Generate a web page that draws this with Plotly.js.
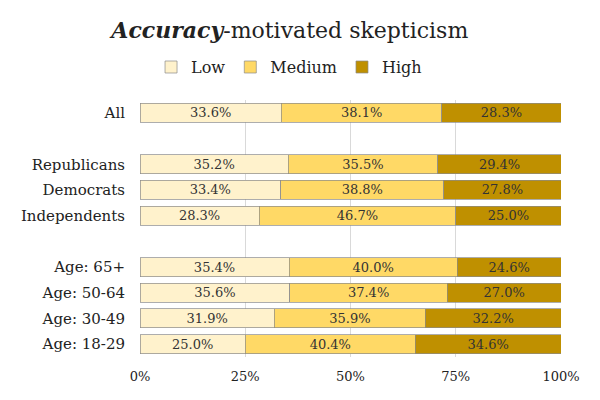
<!DOCTYPE html>
<html><head><meta charset="utf-8">
<script src="https://cdn.plot.ly/plotly-3.0.1.min.js"></script>
<style>html,body{margin:0;padding:0;background:#fff}#chart{width:600px;height:400px}</style>
</head><body><div id="chart"></div>
<script>
const categories = ["All", "Republicans", "Democrats", "Independents", "Age: 65+", "Age: 50-64", "Age: 30-49", "Age: 18-29"];
const positions = [0, 2, 3, 4, 6, 7, 8, 9];
const low =    [33.6, 35.2, 33.4, 28.3, 35.4, 35.6, 31.9, 25.0];
const medium = [38.1, 35.5, 38.8, 46.7, 40.0, 37.4, 35.9, 40.4];
const high =   [28.3, 29.4, 27.8, 25.0, 24.6, 27.0, 32.2, 34.6];
const seriesNames = ["Low", "Medium", "High"];
const colors = ["#FFF2CC", "#FFD966", "#BF9000"];

const FONT = "DejaVu Serif";
const data = [low, medium, high].map((vals, i) => ({
  type: "bar", orientation: "h",
  name: seriesNames[i],
  x: vals, y: positions,
  width: 0.74,
  marker: {color: colors[i], line: {color: "#8a8a8a", width: 0.7}},
  text: vals.map(v => v.toFixed(1) + "%"),
  textposition: "inside", insidetextanchor: "middle",
  constraintext: "none",
  textfont: {family: FONT, size: 13, color: "#333"},
  hoverinfo: "skip"
}));

const layout = {
  width: 600, height: 400,
  margin: {l: 140, r: 39, t: 100, b: 43, autoexpand: false},
  barmode: "stack",
  paper_bgcolor: "#fff", plot_bgcolor: "#fff",
  font: {family: FONT, color: "#222"},
  title: {text: "<b><i>Accuracy</i></b>-motivated skepticism", x: 0.483, xanchor: "center", y: 0.925, yanchor: "middle", font: {family: FONT, size: 22, color: "#222"}},
  showlegend: true,
  legend: {orientation: "h", x: 0.354, xanchor: "center", y: 1.128, yanchor: "middle", font: {family: FONT, size: 16, color: "#222"}, traceorder: "normal", itemwidth: 30},
  xaxis: {range: [0, 100], tickvals: [0, 25, 50, 75, 100], ticktext: ["0%", "25%", "50%", "75%", "100%"], showgrid: true, gridcolor: "#d9d9d9", gridwidth: 1, zeroline: false, showline: false, ticks: "", ticklabelstandoff: 10, tickfont: {family: FONT, size: 13, color: "#222"}, fixedrange: true},
  yaxis: {range: [9.5, -0.5], tickvals: positions, ticktext: categories, showgrid: false, zeroline: false, showline: false, ticks: "", ticklabelstandoff: 14, tickfont: {family: FONT, size: 15, color: "#222"}, fixedrange: true}
};
Plotly.newPlot("chart", data, layout, {displayModeBar: false, staticPlot: true});
</script></body></html>
